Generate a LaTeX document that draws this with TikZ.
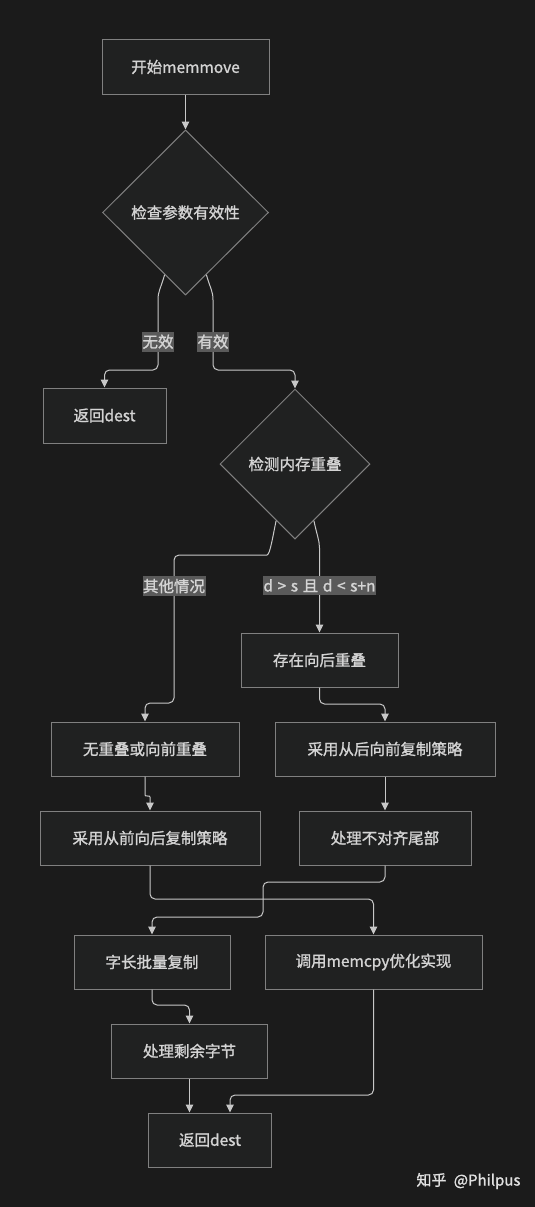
\documentclass[tikz,border=0pt]{standalone}
\usepackage{fontspec}
\setmainfont{Noto Sans CJK SC}[FakeBold=1.3]
\usetikzlibrary{shapes.geometric,arrows.meta,calc}
\definecolor{bgc}{HTML}{1B1B1B}
\definecolor{nodefill}{HTML}{202121}
\definecolor{nodeline}{HTML}{808080}
\definecolor{txt}{HTML}{D4D4D4}
\definecolor{edgec}{HTML}{C8C8C8}
\definecolor{lblbg}{HTML}{5A5A5A}
\begin{document}
\begin{tikzpicture}[x=1pt,y=-1pt,
  box/.style={draw=nodeline, fill=nodefill, line width=1pt, text=txt,
    font=\fontsize{15.5}{18}\selectfont, inner sep=0pt, minimum height=54pt},
  dia/.style={diamond, draw=nodeline, fill=nodefill, line width=1pt, text=txt,
    font=\fontsize{15.5}{18}\selectfont, inner sep=0pt},
  arr/.style={draw=edgec, line width=1pt, -{Triangle[length=8pt,width=7.5pt]}, rounded corners=5pt},
  lbl/.style={sharp corners, fill=lblbg, text=txt, font=\fontsize{15.5}{18}\selectfont,
    inner xsep=0.5pt, inner ysep=3pt}]
\fill[bgc] (0,0) rectangle (535,1207);
\useasboundingbox (0,0) rectangle (535,1207);

\node[box, minimum width=167pt] (s) at (185.5,67) {开始memmove};
\node[dia, minimum width=166pt, minimum height=165pt] (d1) at (185.5,212.5) {检查参数有效性};
\node[box, minimum width=123pt, minimum height=55pt] (r1) at (104.5,415.5) {返回dest};
\node[dia, minimum width=150pt, minimum height=150pt] (d2) at (295,464) {检测内存重叠};
\node[box, minimum width=157pt] (b5) at (319.5,660) {存在向后重叠};
\node[box, minimum width=188pt] (n1) at (145,749) {无重叠或向前重叠};
\node[box, minimum width=220pt] (b7) at (385,749) {采用从后向前复制策略};
\node[box, minimum width=220pt] (b8) at (150,838) {采用从前向后复制策略};
\node[box, minimum width=172pt] (b9) at (385,838) {处理不对齐尾部};
\node[box, minimum width=156pt] (b10) at (152,962) {字长批量复制};
\node[box, minimum width=217pt] (b11) at (373.5,962) {调用memcpy优化实现};
\node[box, minimum width=156pt] (b12) at (189.5,1051) {处理剩余字节};
\node[box, minimum width=123pt] (b13) at (210,1140) {返回dest};

\draw[arr] (s.south) -- (d1.north);
\draw[arr] ($(d1.south)!0.25!(d1.west)$) .. controls +(-4,14) and +(0,-14) .. (158,305)
  -- node[lbl,pos=0.565]{无效} (158,370) -| (r1.north);
\draw[arr] ($(d1.south)!0.25!(d1.east)$) .. controls +(4,14) and +(0,-14) .. (213,305)
  -- node[lbl,pos=0.565]{有效} (213,370) -| (d2.north);
\draw[arr] ($(d2.south)!0.25!(d2.west)$) .. controls +(-3,14) and +(8,0) .. (262,555)
  -- (174,555) -- node[lbl,pos=0.21]{其他情况} (174,703) -| (n1.north);
\draw[arr] ($(d2.south)!0.25!(d2.east)$) .. controls +(3,14) and +(0,-12) .. (319.5,553)
  -- node[lbl,pos=0.41]{d\hspace{4.6pt}>\hspace{4.6pt}s\hspace{4.6pt}且\hspace{4.6pt}d\hspace{4.6pt}<\hspace{4.6pt}s+n} (b5.north);
\draw[arr] (b5.south) -- (319.5,704) -| (b7.north);
\draw[arr] (n1.south) -- (145,790) .. controls (145,797) and (150,795) .. (150,802) -- (b8.north);
\draw[arr] (b7.south) -- (b9.north);
\draw[arr] (b8.south) -- (150,899) -| (b11.north);
\draw[arr] (b9.south) -- (385,882) -- (263,882) -- (263,917) -- (152,917) -- (b10.north);
\draw[arr] (b10.south) -- (152,1005) -| (b12.north);
\draw[arr] (b12.south) -- (b12.south |- b13.north);
\draw[arr] (b11.south) -- (373.5,1095) -| ($(b13.north)+(20,0)$);

\node[text=white!88!black, font=\fontsize{15}{18}\selectfont, inner sep=0pt] (wm) at (468.5,1181) {知乎\hspace{4pt} @Philpus};
\end{tikzpicture}
\end{document}
